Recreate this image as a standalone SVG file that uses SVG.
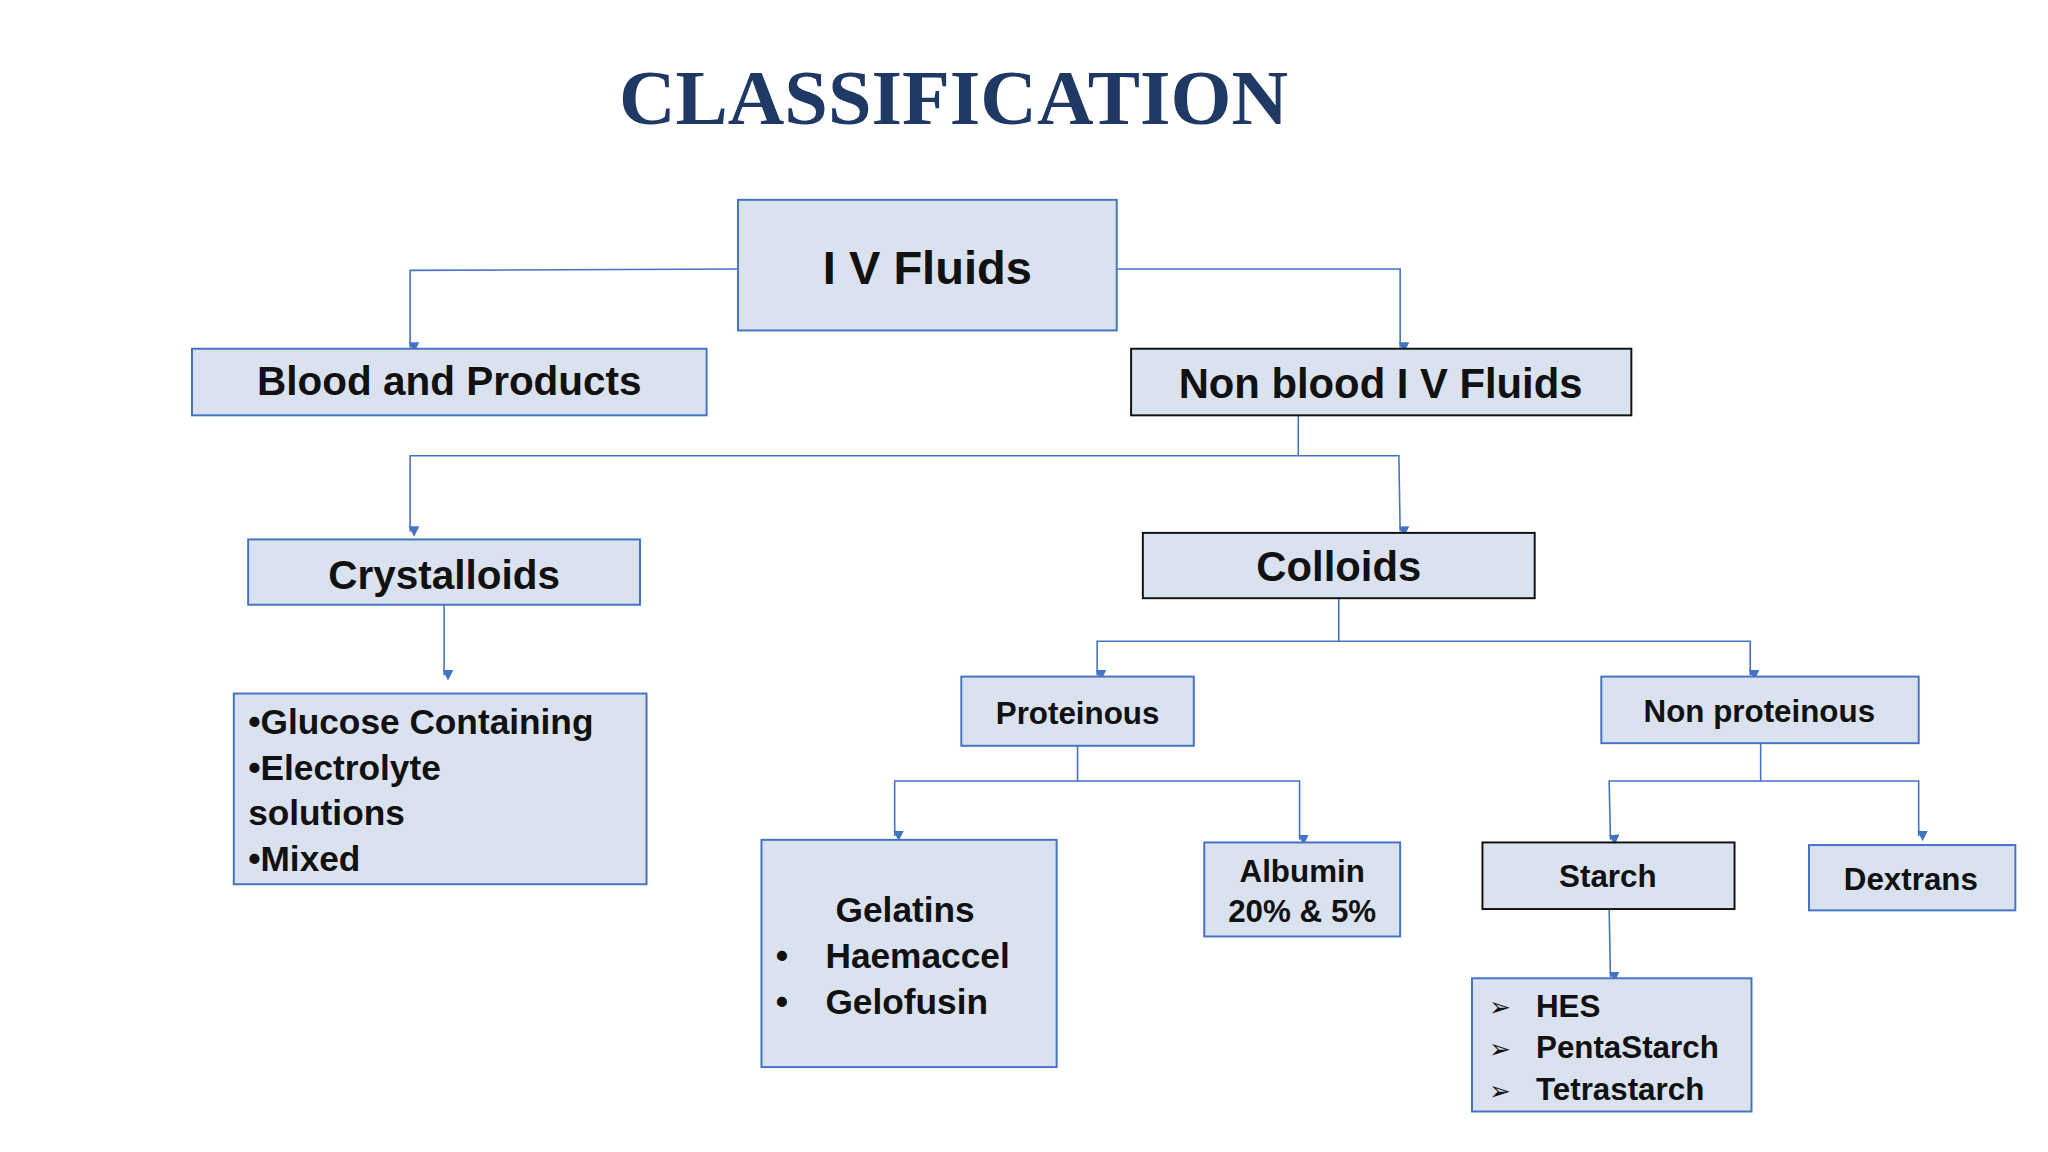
<svg xmlns="http://www.w3.org/2000/svg" width="2048" height="1152" viewBox="0 0 2048 1152">
<style>
.b{fill:#dae1ef;stroke:#4472c4;stroke-width:1.5}
.k{fill:#dae1ef;stroke:#111;stroke-width:1.5}
text{font-family:"Liberation Sans",Arial,sans-serif;font-weight:bold;fill:#111}
.c{text-anchor:middle;dominant-baseline:central}
#conn path{fill:none;stroke:#4472c4;stroke-width:1.2;marker-end:url(#a)}
</style>
<defs><marker id="a" markerWidth="8" markerHeight="8" refX="4" refY="7" orient="auto" markerUnits="userSpaceOnUse" viewBox="0 0 8 8"><path d="M0,0 L8,0 L4,8 z" fill="#4472c4" transform="rotate(-90 4 4)"/></marker></defs>
<rect width="2048" height="1152" fill="#fff"/>
<g transform="scale(1.30612)">
<text x="730" y="95" text-anchor="middle" style="font-family:'Liberation Serif',serif;font-size:60px;fill:#1f3864">CLASSIFICATION</text>
<g id="conn">
<path d="M565,206 L314,207 L314,266"/>
<path d="M855,206 L1072,206 L1072,266"/>
<path d="M994,318 L994,349 M994,349 L314,349 L314,407"/>
<path d="M994,349 L1071,349 L1072,407"/>
<path d="M340,463 L340,517"/>
<path d="M1025,458 L1025,491 L840,491 L840,517"/>
<path d="M1025,491 L1340,491 L1340,517"/>
<path d="M825,571 L825,598 L685,598 L685,640"/>
<path d="M825,598 L995,598 L995,643"/>
<path d="M1348,569 L1348,598 L1232,598 L1233,643"/>
<path d="M1348,598 L1469,598 L1469,640"/>
<path d="M1232,696 L1233,748"/>
</g>
<g id="ivf"><rect class="b" x="565" y="153" width="290" height="100"/><text class="c" x="710" y="205" font-size="36">I V Fluids</text></g>
<g id="blood"><rect class="b" x="147" y="267" width="394" height="51"/><text class="c" x="344" y="292" font-size="31">Blood and Products</text></g>
<g id="nonblood"><rect class="k" x="866" y="267" width="383" height="51"/><text class="c" x="1057" y="294" font-size="32">Non blood I V Fluids</text></g>
<g id="cryst"><rect class="b" x="190" y="413" width="300" height="50"/><text class="c" x="340" y="440" font-size="31">Crystalloids</text></g>
<g id="colloids"><rect class="k" x="875" y="408" width="300" height="50"/><text class="c" x="1025" y="434" font-size="32">Colloids</text></g>
<g id="glucose"><rect class="b" x="179" y="531" width="316" height="146"/>
<text font-size="27" x="190"><tspan x="190" y="562">•Glucose Containing</tspan><tspan x="190" y="597">•Electrolyte</tspan><tspan x="190" y="632">solutions</tspan><tspan x="190" y="667">•Mixed</tspan></text></g>
<g id="prot"><rect class="b" x="736" y="518" width="178" height="53"/><text class="c" x="825" y="546" font-size="24">Proteinous</text></g>
<g id="nonprot"><rect class="b" x="1226" y="518" width="243" height="51"/><text class="c" x="1347" y="545" font-size="24">Non proteinous</text></g>
<g id="gel"><rect class="b" x="583" y="643" width="226" height="174"/>
<text class="c" x="693" y="696" font-size="27">Gelatins</text>
<text font-size="27"><tspan x="594" y="741">•</tspan><tspan x="632" y="741">Haemaccel</tspan><tspan x="594" y="776">•</tspan><tspan x="632" y="776">Gelofusin</tspan></text></g>
<g id="alb"><rect class="b" x="922" y="645" width="150" height="72"/><text class="c" x="997" y="667" font-size="24">Albumin</text><text class="c" x="997" y="698" font-size="24">20% &amp; 5%</text></g>
<g id="starch"><rect class="k" x="1135" y="645" width="193" height="51"/><text class="c" x="1231" y="671" font-size="24">Starch</text></g>
<g id="dex"><rect class="b" x="1385" y="647" width="158" height="50"/><text class="c" x="1463" y="673" font-size="24">Dextrans</text></g>
<g id="hes"><rect class="b" x="1127" y="749" width="214" height="102"/>
<text font-size="24"><tspan x="1140" y="778" style="font-family:'DejaVu Sans',sans-serif;font-size:20px">➢</tspan><tspan x="1176" y="779">HES</tspan><tspan x="1140" y="810" style="font-family:'DejaVu Sans',sans-serif;font-size:20px">➢</tspan><tspan x="1176" y="810">PentaStarch</tspan><tspan x="1140" y="842" style="font-family:'DejaVu Sans',sans-serif;font-size:20px">➢</tspan><tspan x="1176" y="842">Tetrastarch</tspan></text></g>
</g>
</svg>
